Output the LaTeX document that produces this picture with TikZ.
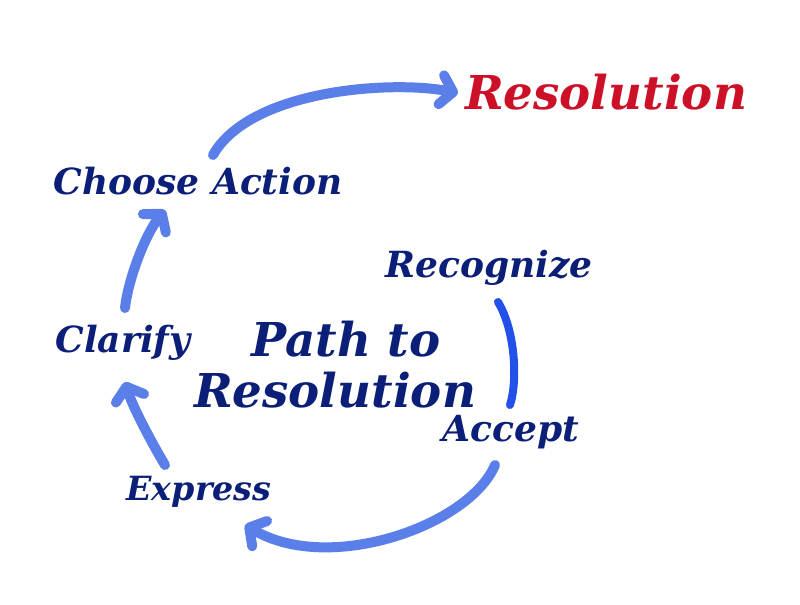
\documentclass[tikz,border=0pt]{standalone}
\usepackage{fontspec}
\setmainfont{DejaVu Serif}
\usetikzlibrary{arrows.meta}
\definecolor{navy}{HTML}{0B1F78}
\definecolor{resred}{HTML}{CC1027}
\definecolor{arrowblue}{HTML}{5A7FE9}
\definecolor{arcblue}{HTML}{2350E8}
\begin{document}
\begin{tikzpicture}[x=0.75pt,y=-0.75pt,
  lbl/.style={text=navy, font=\fontsize{27}{31}\selectfont\bfseries\itshape, inner sep=0pt},
  biglbl/.style={text=navy, font=\fontsize{35}{40}\selectfont\bfseries\itshape, inner sep=0pt},
  flow/.style={draw=arrowblue, line width=7.5pt, line cap=round,
    -{Straight Barb[length=9pt,width=22pt,round]}},
  arc/.style={draw=arcblue, line width=6pt, line cap=round}]
\useasboundingbox (0,0) rectangle (800,605);
\fill[white] (0,0) rectangle (800,605);
\node[biglbl, text=resred] (res) at (606,92) {Resolution};
\node[lbl] (ca) at (198,181) {Choose Action};
\node[lbl] (rec) at (489,268) {Recognize};
\node[biglbl] (path) at (346,339) {Path to};
\node[biglbl] (pres) at (335,390) {Resolution};
\node[lbl] (cla) at (123,343) {Clarify};
\node[lbl] (acc) at (511,432) {Accept};
\node[lbl, font=\fontsize{25}{29}\selectfont\bfseries\itshape] (exp) at (199,492) {Express};
\draw[flow] ([shift={(15,-26)}]ca.center) .. controls (250,90) and (390,80) .. ([shift={(-148,1)}]res.center);
\draw[flow] ([shift={(2,-35)}]cla.center) .. controls (128,280) and (145,235) .. ([shift={(-33,29)}]ca.center);
\draw[flow] ([shift={(-34,-27)}]exp.center) .. controls (150,440) and (132,405) .. ([shift={(2,39)}]cla.center);
\draw[flow] ([shift={(-16,33)}]acc.center) .. controls (470,525) and (330,575) .. ([shift={(46,33)}]exp.center);
\draw[arc] ([shift={(9,34)}]rec.center) .. controls (515,330) and (518,380) .. ([shift={(-1,-27)}]acc.center);
\end{tikzpicture}
\end{document}
